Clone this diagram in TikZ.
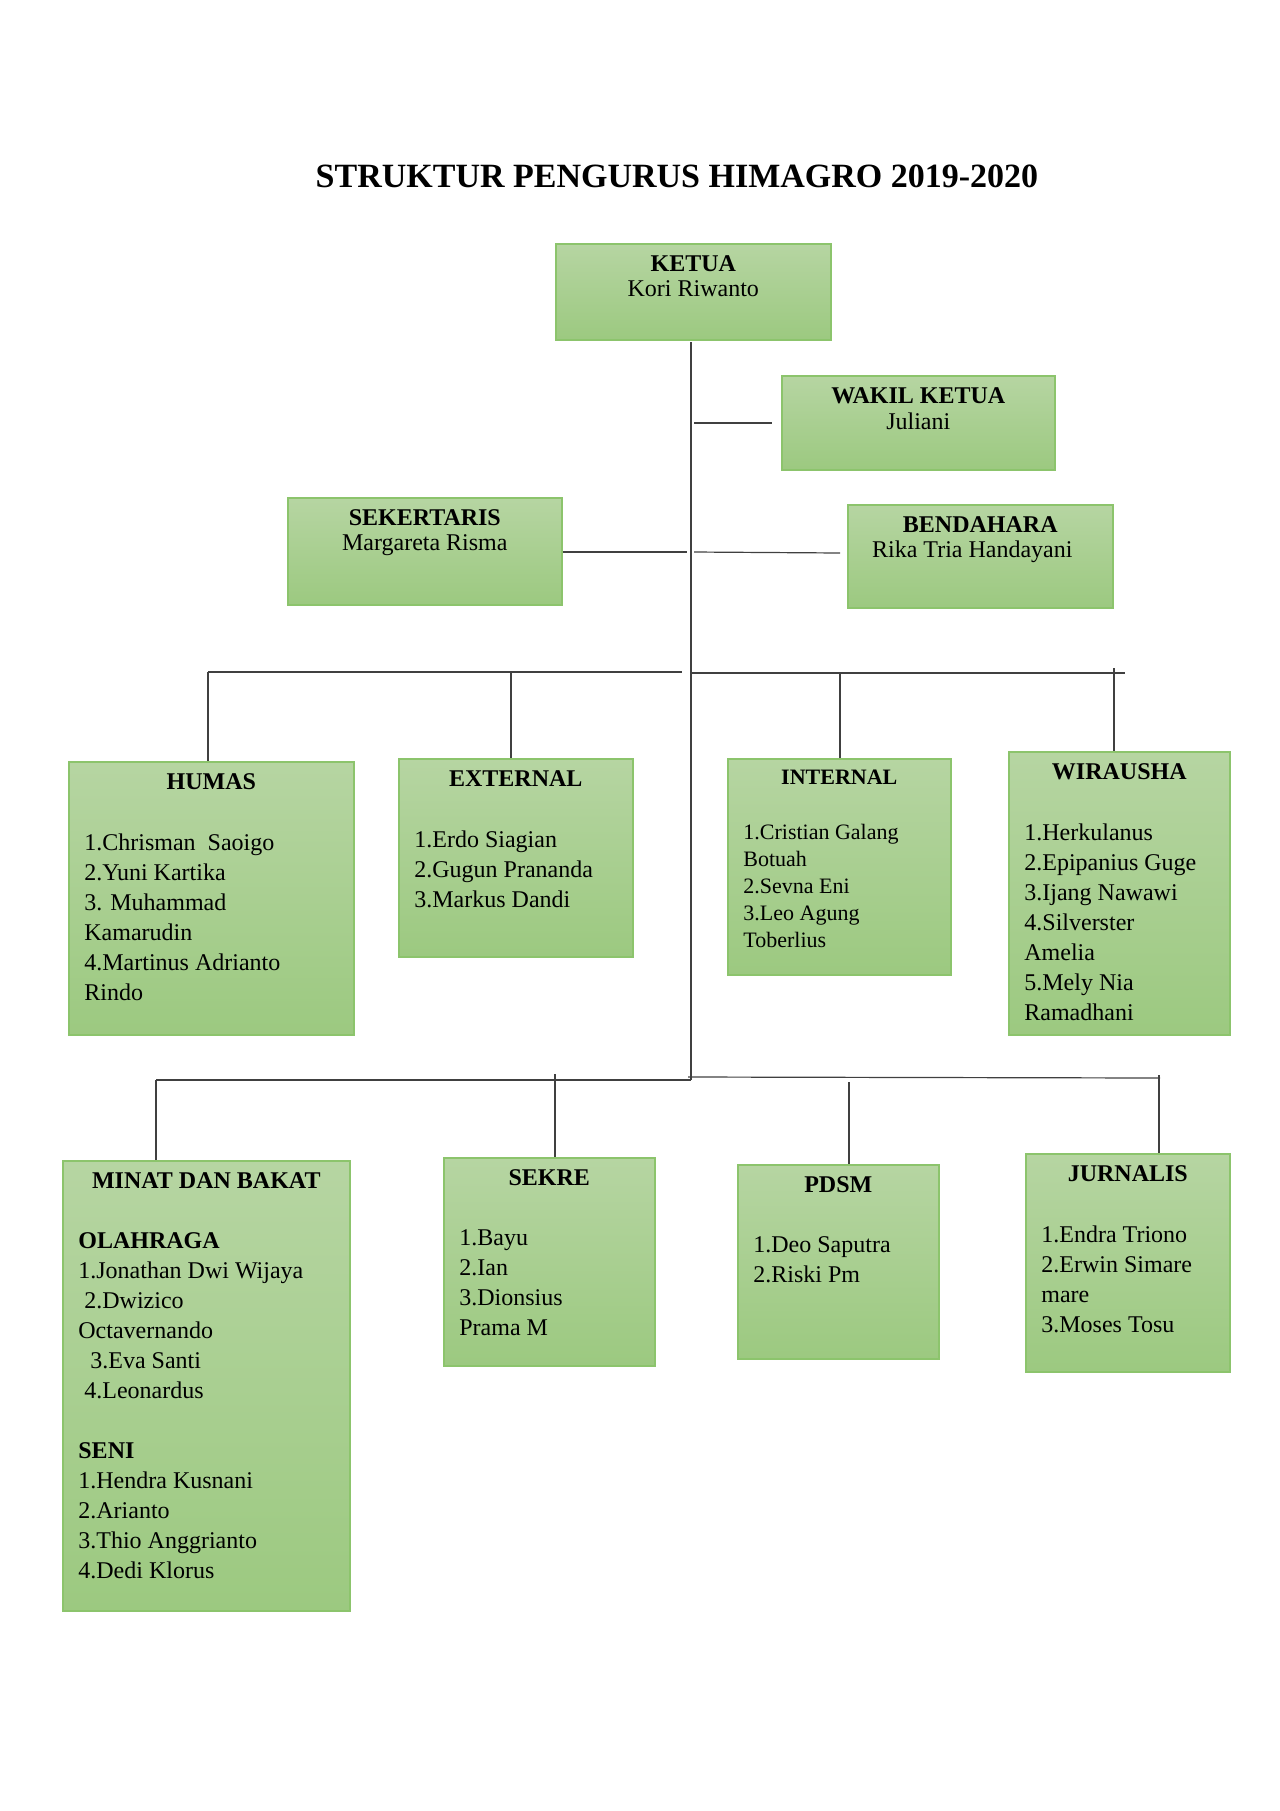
\documentclass[tikz,border=0pt]{standalone}
\usepackage{fontspec}
\setmainfont{Liberation Serif}
\usetikzlibrary{positioning}
\definecolor{boxtop}{RGB}{182,213,162}
\definecolor{boxbot}{RGB}{156,201,128}
\definecolor{boxline}{RGB}{140,196,108}
\tikzset{
  unit/.style={draw=boxline, line width=0.8pt, top color=boxtop, bottom color=boxbot,
    anchor=north west, inner sep=0pt},
  head/.style={font=\bfseries\fontsize{12}{15}\selectfont, inner sep=0pt, anchor=north},
  names/.style={font=\fontsize{12}{15}\selectfont, align=left, inner sep=0pt, anchor=north west},
  link/.style={draw=black!75, line width=0.6pt}
}
\newcommand{\unitbox}[5]{% name, x, y, w, h
  \node[unit, minimum width=#4*0.5pt, minimum height=#5*0.5pt] (#1) at (#2,#3) {};}
\begin{document}
\begin{tikzpicture}[x=0.5pt,y=-0.5pt]
  \useasboundingbox (0,0) rectangle (1280,1811);
  \node[font=\bfseries\fontsize{17}{20}\selectfont] (title) at (677,176) {STRUKTUR PENGURUS HIMAGRO 2019-2020};

  % pengurus inti
  \unitbox{ketua}{555}{243}{275}{96}
  \unitbox{wakil}{781}{375}{273}{94}
  \unitbox{sekretaris}{287}{497}{274}{107}
  \unitbox{bendahara}{847}{504}{265}{103}
  \node[head, below=12*0.5pt of ketua.north] (ketuaH) {KETUA};
  \node[names, anchor=north, below=4pt of ketuaH] {Kori Riwanto};
  \node[head, below=12*0.5pt of wakil.north] (wakilH) {WAKIL KETUA};
  \node[names, anchor=north, below=4pt of wakilH] {Juliani};
  \node[head, below=12*0.5pt of sekretaris.north] (sekretarisH) {SEKERTARIS};
  \node[names, anchor=north, below=4pt of sekretarisH] {Margareta Risma};
  \node[head, below=12*0.5pt of bendahara.north] (bendaharaH) {BENDAHARA};
  \node[names, anchor=north, below=4pt of bendaharaH, xshift=-8*0.5pt] {Rika Tria Handayani};

  % divisi baris 1
  \unitbox{humas}{68}{761}{285}{273}
  \unitbox{external}{398}{758}{234}{198}
  \unitbox{internal}{727}{758}{223}{216}
  \unitbox{wirausha}{1008}{751}{221}{283}
  % divisi baris 2
  \unitbox{minat}{62}{1160}{287}{450}
  \unitbox{sekre}{443}{1157}{211}{208}
  \unitbox{pdsm}{737}{1164}{201}{194}
  \unitbox{jurnalis}{1025}{1153}{204}{218}

  \node[head, below=12*0.5pt of humas.north] {HUMAS};
  \node[names] at ([shift={(16,72)}]humas.north west) {1.Chrisman\ \ Saoigo\\2.Yuni Kartika\\{\large 3.} Muhammad\\Kamarudin\\4.Martinus Adrianto\\Rindo};
  \node[head, below=12*0.5pt of external.north] {EXTERNAL};
  \node[names] at ([shift={(16,72)}]external.north west) {1.Erdo Siagian\\2.Gugun Prananda\\3.Markus Dandi};
  \node[head, below=12*0.5pt of internal.north, font=\bfseries\fontsize{11}{14}\selectfont] {INTERNAL};
  \node[names, font=\fontsize{11}{13.5}\selectfont] at ([shift={(16,66)}]internal.north west) {1.Cristian Galang\\Botuah\\2.Sevna Eni\\3.Leo Agung\\Toberlius};
  \node[head, below=12*0.5pt of wirausha.north] {WIRAUSHA};
  \node[names] at ([shift={(16,72)}]wirausha.north west) {1.Herkulanus\\2.Epipanius Guge\\3.Ijang Nawawi\\4.Silverster\\Amelia\\5.Mely Nia\\Ramadhani};

  \node[head, below=12*0.5pt of minat.north] {MINAT DAN BAKAT};
  \node[names] at ([shift={(16,72)}]minat.north west) {\textbf{OLAHRAGA}\\1.Jonathan Dwi Wijaya\\\ 2.Dwizico\\Octavernando\\\ \ 3.Eva Santi\\\ 4.Leonardus\\[15pt]\textbf{SENI}\\1.Hendra Kusnani\\2.Arianto\\3.Thio Anggrianto\\4.Dedi Klorus};
  \node[head, below=12*0.5pt of sekre.north] {SEKRE};
  \node[names] at ([shift={(16,72)}]sekre.north west) {1.Bayu\\2.Ian\\3.Dionsius\\Prama M};
  \node[head, below=12*0.5pt of pdsm.north] {PDSM};
  \node[names] at ([shift={(16,72)}]pdsm.north west) {1.Deo Saputra\\2.Riski Pm};
  \node[head, below=12*0.5pt of jurnalis.north] {JURNALIS};
  \node[names] at ([shift={(16,72)}]jurnalis.north west) {1.Endra Triono\\2.Erwin Simare\\mare\\3.Moses Tosu};

  % garis penghubung
  \coordinate (top) at (691,342);
  \coordinate (bottom) at (691,1080);
  \draw[link] (top) -- (bottom);
  \draw[link] (694,423) -- (772,423);
  \draw[link] (sekretaris.east |- 0,552) -- (687,552);
  \draw[link] (694,552) -- (840,553);
  \draw[link] (208,672) -- (682,672);
  \draw[link] (691,673) -- (1125,673);
  \draw[link] (208,672) -- (humas.north -| 208,0);
  \draw[link] (511,672) -- (external.north -| 511,0);
  \draw[link] (840,673) -- (internal.north -| 840,0);
  \draw[link] (1114,668) -- (wirausha.north -| 1114,0);
  \draw[link] (156,1080) -- (691,1080);
  \draw[link] (688,1077) -- (1160,1078);
  \draw[link] (156,1080) -- (minat.north -| 156,0);
  \draw[link] (555,1074) -- (sekre.north -| 555,0);
  \draw[link] (849,1082) -- (pdsm.north -| 849,0);
  \draw[link] (1159,1075) -- (jurnalis.north -| 1159,0);
\end{tikzpicture}
\end{document}
